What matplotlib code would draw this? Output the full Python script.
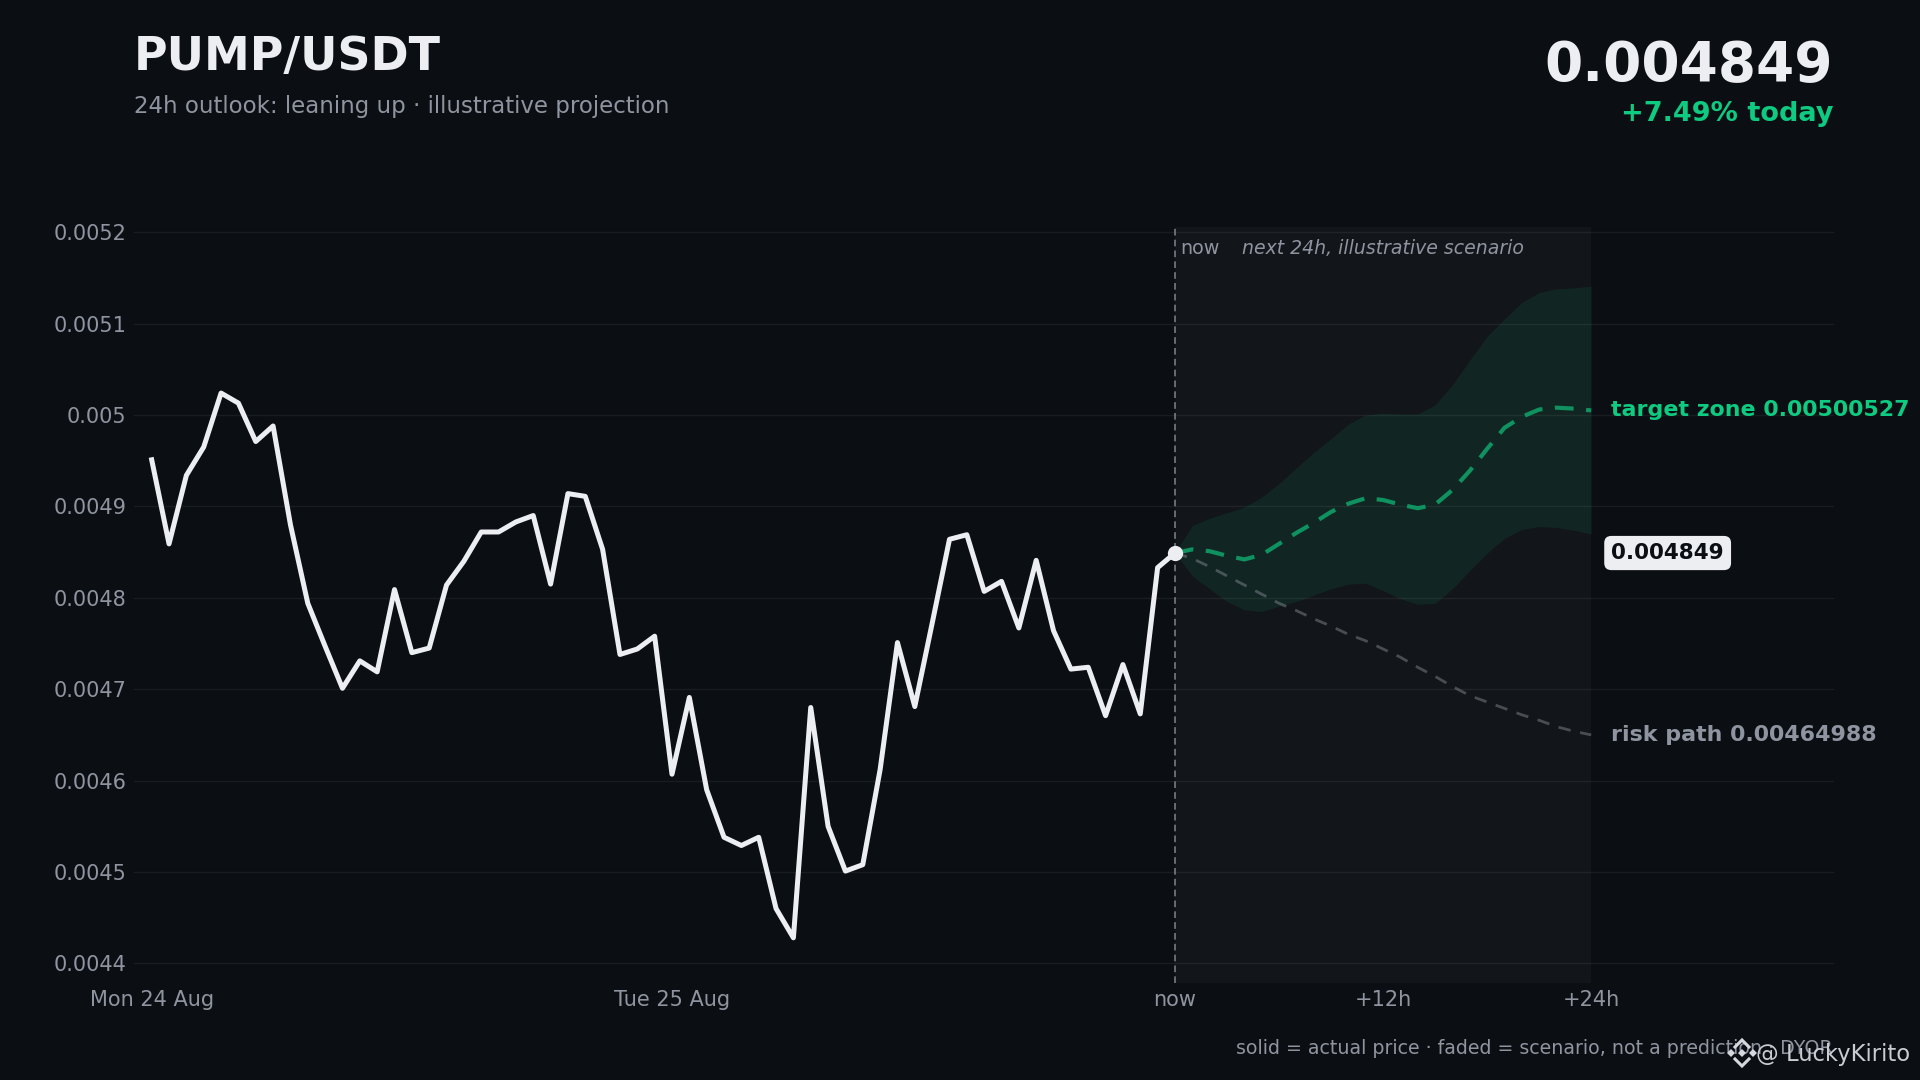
import matplotlib
matplotlib.use('Agg')
import matplotlib.pyplot as plt
import numpy as np
from matplotlib.lines import Line2D

price = [0.004951, 0.004859, 0.004934, 0.004965, 0.005024, 0.005013, 0.004971, 0.004988, 0.004880, 0.004794,
         0.004747, 0.004701, 0.004731, 0.004719, 0.004809, 0.004740, 0.004745, 0.004814, 0.004840, 0.004872,
         0.004872, 0.004883, 0.004890, 0.004815, 0.004914, 0.004911, 0.004853, 0.004738, 0.004744, 0.004758,
         0.004607, 0.004691, 0.004590, 0.004538, 0.004529, 0.004538, 0.004460, 0.004428, 0.004680, 0.004550,
         0.004501, 0.004508, 0.004612, 0.004751, 0.004681, 0.004772, 0.004864, 0.004869, 0.004807, 0.004818,
         0.004767, 0.004841, 0.004764, 0.004722, 0.004724, 0.004671, 0.004727, 0.004673, 0.004833, 0.004849]
target = [0.004849, 0.004853, 0.004851, 0.004846, 0.004842, 0.004847, 0.004859, 0.004871, 0.004882, 0.004894,
          0.004903, 0.004909, 0.004907, 0.004902, 0.004898, 0.004902, 0.004918, 0.004939, 0.004963, 0.004986,
          0.004998, 0.005006, 0.005008, 0.005007, 0.005005]
band_hi = [0.004849, 0.004879, 0.004887, 0.004893, 0.004899, 0.004910, 0.004925, 0.004942, 0.004959, 0.004974,
           0.004990, 0.005000, 0.005002, 0.005001, 0.005001, 0.005011, 0.005033, 0.005060, 0.005086, 0.005105,
           0.005123, 0.005134, 0.005138, 0.005139, 0.005141]
band_lo = [0.004849, 0.004824, 0.004810, 0.004796, 0.004787, 0.004785, 0.004791, 0.004796, 0.004803, 0.004810,
           0.004815, 0.004816, 0.004808, 0.004799, 0.004793, 0.004794, 0.004810, 0.004830, 0.004849, 0.004865,
           0.004875, 0.004878, 0.004877, 0.004874, 0.004870]
risk = [0.004849, 0.004843, 0.004834, 0.004824, 0.004814, 0.004804, 0.004794, 0.004786, 0.004777, 0.004769,
        0.004760, 0.004753, 0.004744, 0.004735, 0.004724, 0.004714, 0.004703, 0.004693, 0.004686, 0.004679,
        0.004672, 0.004666, 0.004659, 0.004654, 0.004650]
y_ticks = [0.0044, 0.0045, 0.0046, 0.0047, 0.0048, 0.0049, 0.005, 0.0051, 0.0052]
y_labels = ['0.0044', '0.0045', '0.0046', '0.0047', '0.0048', '0.0049', '0.005', '0.0051', '0.0052']
x_ticks = [0, 30, 59, 71, 83]
x_labels = ['Mon 24 Aug', 'Tue 25 Aug', 'now', '+12h', '+24h']

BG = '#0b0f13'
WHITE = '#eceef2'
GREEN = '#0ecb81'
MUTED = '#8f95a0'
LOGO = '#d5d8dc'

W, H = 1920, 1080
fig = plt.figure(figsize=(19.2, 10.8), dpi=100, facecolor=BG)
ax = fig.add_axes([134 / W, 1 - 983 / H, (1834 - 134) / W, (983 - 227) / H], facecolor=BG)

now = len(price) - 1
hours = np.arange(len(target)) + now

ax.axvspan(now, hours[-1], color='#ffffff', alpha=0.03, lw=0, zorder=1)
ax.fill_between(hours, band_lo, band_hi, color=GREEN, alpha=0.09, lw=0, zorder=2)
ax.plot(hours, risk, color='#8a909a', alpha=0.45, lw=2, ls=(0, (4.5, 3.5)), zorder=3)
ax.plot(hours, target, color=GREEN, alpha=0.65, lw=3, ls=(0, (4.5, 3)), zorder=4)
ax.axvline(now, color=MUTED, alpha=0.8, lw=1.2, ls=(0, (4, 2.5)), zorder=4)
ax.plot(range(len(price)), price, color=WHITE, lw=3.6, zorder=5)
ax.plot(now, price[-1], 'o', color=WHITE, ms=11, mew=0, zorder=6)

ax.set_xlim(-1.02, 97.0)
ax.set_ylim(0.00437856, 0.00520569)
ax.set_yticks(y_ticks, y_labels)
ax.set_xticks(x_ticks, x_labels)
ax.tick_params(length=0, labelsize=15, labelcolor=MUTED, pad=5.5)
ax.tick_params(axis='x', pad=5)
ax.grid(axis='y', color='#ffffff', alpha=0.06, lw=1)
ax.set_axisbelow(True)
for s in ax.spines.values():
    s.set_visible(False)

ax.annotate('now', (now, 0.0052), xytext=(4, -12), textcoords='offset points', color=MUTED,
            fontsize=13.8, va='center', zorder=7)
ax.annotate('next 24h, illustrative scenario', (now, 0.0052), xytext=(48.3, -12), textcoords='offset points',
            color=MUTED, fontsize=13.6, style='italic', va='center', zorder=7)

ax.annotate('target zone 0.00500527', (hours[-1], target[-1]), xytext=(14.5, 0), textcoords='offset points',
            color=GREEN, fontsize=15.9, fontweight='bold', va='center', annotation_clip=False)
ax.annotate('risk path 0.00464988', (hours[-1], risk[-1]), xytext=(14.5, 0), textcoords='offset points',
            color=MUTED, fontsize=15.9, fontweight='bold', va='center', annotation_clip=False)
ax.annotate('0.004849', (hours[-1], price[-1]), xytext=(14.5, 0), textcoords='offset points',
            color=BG, fontsize=15.5, fontweight='bold', va='center', annotation_clip=False,
            bbox=dict(boxstyle='round,pad=0.33', fc=WHITE, ec='none'))

fig.text(134 / W, 1 - 57 / H, 'PUMP/USDT', color=WHITE, fontsize=33, fontweight='bold', va='center')
fig.text(134 / W, 1 - 106 / H, '24h outlook: leaning up · illustrative projection', color=MUTED,
         fontsize=16.5, va='center')
fig.text(1833 / W, 1 - 66 / H, '0.004849', color=WHITE, fontsize=39.5, fontweight='bold', va='center', ha='right')
fig.text(1833 / W, 1 - 114 / H, '+7.49% today', color=GREEN, fontsize=19.5, fontweight='bold', va='center', ha='right')
fig.text(1833 / W, 1 - 1048 / H, 'solid = actual price · faded = scenario, not a prediction · DYOR', color=MUTED,
         fontsize=13.7, va='center', ha='right')

# watermark and its logo, in figure pixels
fig.text(1910 / W, 1 - 1055 / H, '@ LuckyKirito', color='#c9ccd2', fontsize=16.3, va='center', ha='right', zorder=10)
logo_x = [1742, 1731, 1753]
logo_y = [1053, 1053, 1053]
fig.add_artist(Line2D([x / W for x in logo_x], [1 - y / H for y in logo_y], ls='none', marker='D', ms=3.6,
                      mfc=LOGO, mec=LOGO, mew=0, transform=fig.transFigure, zorder=10))
fig.add_artist(Line2D([x / W for x in [1735, 1742, 1749]], [1 - y / H for y in [1047, 1040, 1047]],
                      color=LOGO, lw=2.2, solid_joinstyle='miter', transform=fig.transFigure, zorder=10))
fig.add_artist(Line2D([x / W for x in [1735, 1742, 1749]], [1 - y / H for y in [1059, 1066, 1059]],
                      color=LOGO, lw=2.2, solid_joinstyle='miter', transform=fig.transFigure, zorder=10))

fig.savefig('out.png', dpi=100, facecolor=BG)
